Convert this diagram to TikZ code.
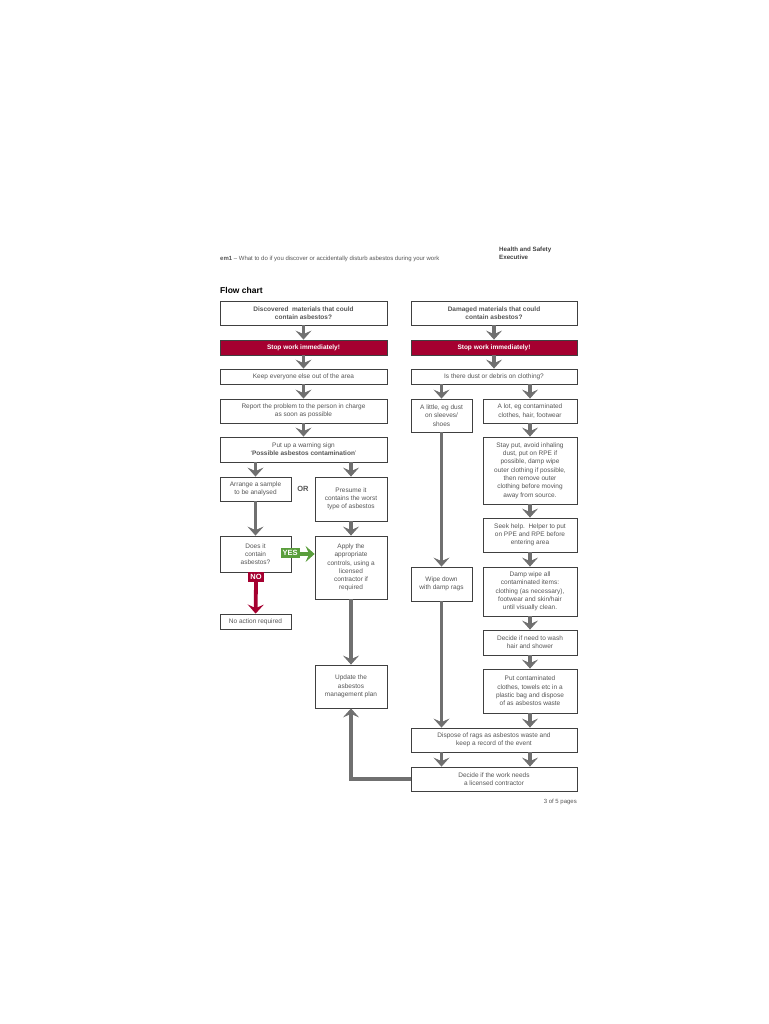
\documentclass[tikz,border=0pt]{standalone}
\usepackage{fontspec}
\setmainfont{Liberation Sans}
\usetikzlibrary{arrows.meta}
\definecolor{hred}{HTML}{A50030}
\definecolor{agray}{HTML}{707070}
\definecolor{tgray}{HTML}{555555}
\definecolor{hgreen}{HTML}{5A9E3C}
\begin{document}
\begin{tikzpicture}[x=1pt,y=-1pt,
  bx/.style={draw=black!75,line width=0.8pt,fill=white,align=center,text=tgray,font=\fontsize{6.5}{8.3}\selectfont,inner sep=0pt},
  rbx/.style={bx,fill=hred,text=white,font=\fontsize{6.5}{8.3}\selectfont\bfseries},
  ar/.style={draw=agray,line width=3.8pt,-{Stealth[length=9pt,width=16pt,inset=3.5pt]}},
  lbl/.style={font=\fontsize{7.5}{9}\selectfont\bfseries,text=white,inner sep=2pt}]
\useasboundingbox (0,0) rectangle (768,1024);
\newcommand{\bxn}[6][bx]{\node[#1,minimum width={#4-#2},minimum height={#5-#3}] (#6) at ({(#2+#4)/2},{(#3+#5)/2})}
% header
\node[anchor=west,font=\fontsize{6}{7}\selectfont,text=tgray,inner sep=0] (hdr) at (220,259) {\textbf{em1} – What to do if you discover or accidentally disturb asbestos during your work};
\node[anchor=north west,align=left,font=\fontsize{6.2}{8}\selectfont\bfseries,text=black!75,inner sep=0] (hse) at (499,247) {Health and Safety\\Executive};
\node[anchor=west,font=\fontsize{8.5}{10}\selectfont\bfseries,inner sep=0] (fc) at (220,290) {Flow chart};
\node[anchor=east,font=\fontsize{6}{7}\selectfont,text=tgray,inner sep=0] (pg) at (577,802) {3 of 5 pages};
% left
\bxn{220}{301}{387}{325}{L1} {\textbf{Discovered\ \ materials that could}\\\textbf{contain asbestos?}};
\bxn[rbx]{220}{340}{387}{355}{L2} {Stop work immediately!};
\bxn{220}{369}{387}{384}{L3} {Keep everyone else out of the area};
\bxn{220}{399}{387}{423}{L4} {Report the problem to the person in charge\\as soon as possible};
\bxn{220}{437}{387}{462}{L5} {Put up a warning sign\\‘\textbf{Possible asbestos contamination}’};
\bxn{220}{477}{291}{501}{L6} {Arrange a sample\\to be analysed};
\bxn{315}{477}{387}{521}{L7} {Presume it\\contains the worst\\type of asbestos};
\bxn{220}{536}{291}{572}{L8} {Does it\\contain\\asbestos?};
\bxn{315}{536}{387}{599}{L9} {Apply the\\appropriate\\controls, using a\\licensed\\contractor if\\required};
\bxn{220}{614}{291}{629}{L10} {No action required};
\bxn{315}{665}{387}{708}{L11} {Update the\\asbestos\\management plan};
\node[font=\fontsize{7.5}{8}\selectfont\bfseries,text=tgray] (or) at (303,489) {OR};
% right
\bxn{411}{301}{577}{325}{R1} {\textbf{Damaged materials that could}\\\textbf{contain asbestos?}};
\bxn[rbx]{411}{340}{577}{355}{R2} {Stop work immediately!};
\bxn{411}{369}{577}{384}{R3} {Is there dust or debris on clothing?};
\bxn{411}{399}{472}{432}{R4} {A little, eg dust\\on sleeves/\\shoes};
\bxn{483}{399}{577}{423}{R5} {A lot, eg contaminated\\clothes, hair, footwear};
\bxn{483}{437}{577}{504}{R6} {Stay put, avoid inhaling\\dust, put on RPE if\\possible, damp wipe\\outer clothing if possible,\\then remove outer\\clothing before moving\\away from source.};
\bxn{483}{518}{577}{552}{R7} {Seek help.\ \ Helper to put\\on PPE and RPE before\\entering area};
\bxn{411}{567}{472}{601}{R8} {Wipe down\\with damp rags};
\bxn{483}{567}{577}{616}{R9} {Damp wipe all\\contaminated items:\\clothing (as necessary),\\footwear and skin/hair\\until visually clean.};
\bxn{483}{630}{577}{655}{R10} {Decide if need to wash\\hair and shower};
\bxn{483}{669}{577}{713}{R11} {Put contaminated\\clothes, towels etc in a\\plastic bag and dispose\\of as asbestos waste};
\bxn{411}{728}{577}{752}{R12} {Dispose of rags as asbestos waste and\\keep a record of the event};
\bxn{411}{767}{577}{791}{R13} {Decide if the work needs\\a licensed contractor};
% arrows left
\draw[ar] (L1) -- (L2);
\draw[ar] (L2) -- (L3);
\draw[ar] (L3) -- (L4);
\draw[ar] (L4) -- (L5);
\draw[ar] (L5.south -| L6) -- (L6);
\draw[ar] (L5.south -| L7) -- (L7);
\draw[ar] (L6) -- (L8);
\draw[ar] (L7) -- (L9);
\draw[ar] (L9) -- (L11);
\draw[draw=hgreen,line width=3.8pt,-{Stealth[length=9pt,width=16pt,inset=3.5pt]}] (L8.east) -- (L9.west |- L8.east);
\node[lbl,fill=hgreen] (yes) at (290,553) {YES};
\coordinate (nostart) at (256,582);
\draw[draw=hred,line width=3.8pt,-{Stealth[length=9pt,width=16pt,inset=3.5pt]}] (nostart) -- (L10);
\node[lbl,fill=hred] (no) at (256,577) {NO};
% arrows right
\draw[ar] (R1) -- (R2);
\draw[ar] (R2) -- (R3);
\draw[ar] (R3.south -| R4) -- (R4);
\draw[ar] (R3.south -| R5) -- (R5);
\draw[ar] (R5) -- (R6);
\draw[ar] (R6) -- (R7);
\draw[ar] (R7) -- (R9);
\draw[ar] (R9) -- (R10);
\draw[ar] (R10) -- (R11);
\draw[ar] (R11) -- (R11.south |- R12.north);
\draw[ar] (R4) -- (R8);
\draw[ar] (R8) -- (R8.south |- R12.north);
\draw[ar] (R12.south -| R8) -- (R8 |- R13.north);
\draw[ar] (R12.south -| R11) -- (R11 |- R13.north);
\draw[ar] (R13.west) -| (L11.south);
\end{tikzpicture}
\end{document}
